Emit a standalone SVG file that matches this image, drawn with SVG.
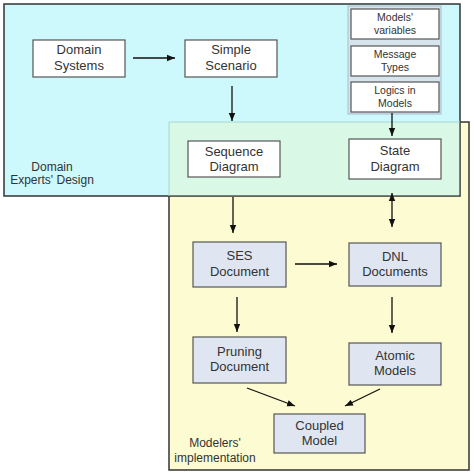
<svg xmlns="http://www.w3.org/2000/svg" width="474" height="474" viewBox="0 0 474 474">
<defs>
<marker id="ah" viewBox="0 0 10 10" refX="10" refY="5" markerWidth="8" markerHeight="8" markerUnits="userSpaceOnUse" orient="auto-start-reverse">
<path d="M0,1 L10,5 L0,9 z" fill="#111"/>
</marker>
<style>
.t{font-family:"Liberation Sans",Arial,sans-serif;font-size:13px;fill:#333;text-anchor:middle}
.s{font-family:"Liberation Sans",Arial,sans-serif;font-size:10.5px;fill:#333;text-anchor:middle}
.l{font-family:"Liberation Sans",Arial,sans-serif;font-size:12px;fill:#333;text-anchor:middle}
.w{fill:#fff;stroke:#555;stroke-width:1.2}
.g{fill:#dfe6f1;stroke:#555;stroke-width:1.2}
.c{stroke:#111;stroke-width:1.3;fill:none;marker-end:url(#ah)}
</style>
</defs>
<rect width="474" height="474" fill="#fff"/>
<g id="regions">
<rect x="169" y="122" width="300" height="348" fill="#fdfbd2" stroke="#333" stroke-width="1.5"/>
<rect x="4" y="4" width="456" height="192" fill="#cdf8fc" stroke="#333" stroke-width="1.5"/>
<rect x="169.8" y="122.8" width="289.4" height="72.4" fill="#d9f8e6"/>
<line x1="169" y1="122" x2="169" y2="196" stroke="#a8d8c8" stroke-width="1"/>
<line x1="169" y1="122" x2="460" y2="122" stroke="#a8d8c8" stroke-width="1"/>
<text class="l" x="52" y="171">Domain</text>
<text class="l" x="52" y="184">Experts' Design</text>
<text class="l" x="215" y="447">Modelers'</text>
<text class="l" x="215" y="462">implementation</text>
</g>
<g id="domain-systems"><rect class="w" x="33" y="40" width="92" height="37"/><text class="t" x="79" y="54">Domain</text><text class="t" x="79" y="70">Systems</text></g>
<g id="simple-scenario"><rect class="w" x="185" y="40" width="92" height="37"/><text class="t" x="231" y="54">Simple</text><text class="t" x="231" y="70">Scenario</text></g>
<g id="model-info"><rect x="348" y="6" width="93" height="108" fill="#d6e4ee" stroke="#a9bccc" stroke-width="1"/></g>
<g id="models-variables"><rect class="w" x="351" y="9" width="88" height="30"/><text class="s" x="395" y="21">Models'</text><text class="s" x="395" y="34">variables</text></g>
<g id="message-types"><rect class="w" x="351" y="46" width="88" height="30"/><text class="s" x="395" y="58">Message</text><text class="s" x="395" y="71">Types</text></g>
<g id="logics-in-models"><rect class="w" x="351" y="82" width="88" height="30"/><text class="s" x="395" y="94">Logics in</text><text class="s" x="395" y="107">Models</text></g>
<g id="sequence-diagram"><rect class="w" x="188" y="141" width="92" height="36"/><text class="t" x="234" y="156">Sequence</text><text class="t" x="234" y="171">Diagram</text></g>
<g id="state-diagram"><rect class="w" x="349" y="139" width="92" height="40"/><text class="t" x="395" y="155">State</text><text class="t" x="395" y="171">Diagram</text></g>
<g id="ses-document"><rect class="g" x="193" y="242" width="93" height="45"/><text class="t" x="239.5" y="260">SES</text><text class="t" x="239.5" y="276">Document</text></g>
<g id="dnl-documents"><rect class="g" x="349" y="243" width="92" height="43"/><text class="t" x="395" y="261">DNL</text><text class="t" x="395" y="276">Documents</text></g>
<g id="pruning-document"><rect class="g" x="193" y="337" width="93" height="46"/><text class="t" x="239.5" y="356">Pruning</text><text class="t" x="239.5" y="371">Document</text></g>
<g id="atomic-models"><rect class="g" x="349" y="343" width="92" height="42"/><text class="t" x="395" y="360">Atomic</text><text class="t" x="395" y="375">Models</text></g>
<g id="coupled-model"><rect class="g" x="274" y="414" width="91" height="39"/><text class="t" x="319.5" y="430">Coupled</text><text class="t" x="319.5" y="445">Model</text></g>
<g id="connectors">
<line class="c" x1="133" y1="58" x2="175" y2="58"/>
<line class="c" x1="232" y1="86" x2="232" y2="121"/>
<line class="c" x1="392" y1="113" x2="392" y2="136"/>
<line class="c" x1="392" y1="193" x2="392" y2="227" marker-start="url(#ah)"/>
<line class="c" x1="233" y1="197" x2="233" y2="233"/>
<line class="c" x1="295" y1="264" x2="337" y2="264"/>
<line class="c" x1="237" y1="297" x2="237" y2="332"/>
<line class="c" x1="392" y1="297" x2="392" y2="333"/>
<line class="c" x1="247" y1="388" x2="295" y2="406"/>
<line class="c" x1="380" y1="389" x2="345" y2="406"/>
</g>
</svg>
